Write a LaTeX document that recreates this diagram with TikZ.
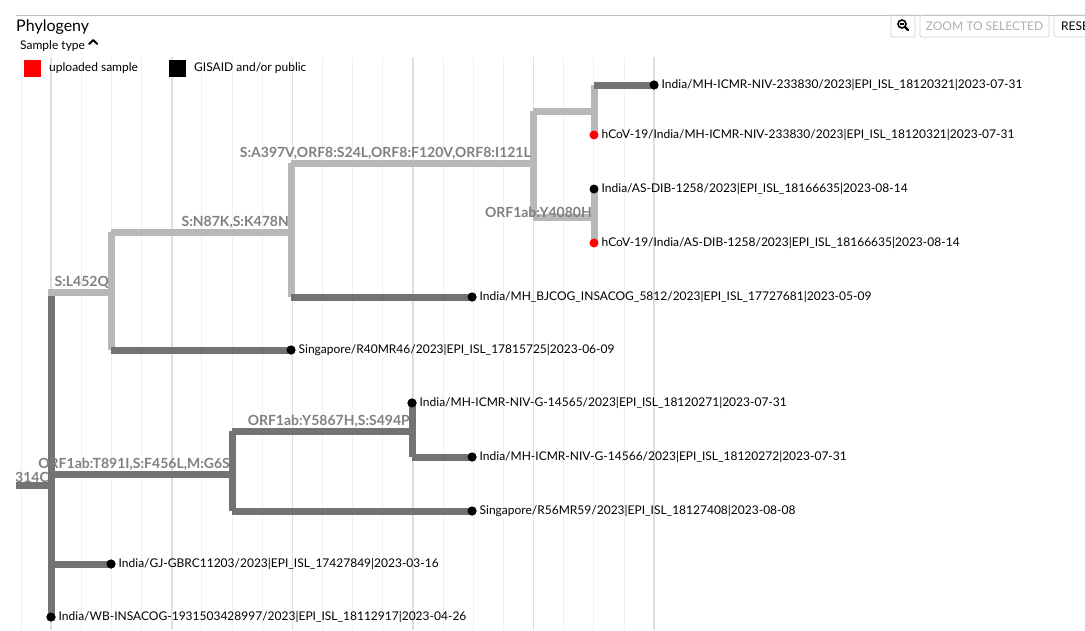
\documentclass[tikz,border=0pt]{standalone}
\usepackage{fontspec}
\setmainfont{Lato}
\definecolor{brdk}{RGB}{115,115,115}
\definecolor{brlt}{RGB}{184,184,184}
\definecolor{mutc}{RGB}{128,128,128}
\definecolor{gridd}{RGB}{222,222,222}
\definecolor{gridl}{RGB}{240,240,240}
\definecolor{btnb}{RGB}{210,210,210}
\definecolor{btnt}{RGB}{175,175,175}
\definecolor{hline}{RGB}{190,190,190}
\begin{document}
\begin{tikzpicture}[x=1pt,y=-1pt,
  dk/.style={line width=7pt,draw=brdk},
  lt/.style={line width=7pt,draw=brlt},
  tip/.style={anchor=west,font=\fontsize{12}{14}\selectfont,inner sep=0pt,xshift=7.5pt},
  mut/.style={anchor=south east,font=\fontsize{14}{16}\selectfont\bfseries,text=mutc,inner sep=0pt,yshift=3pt,xshift=-2pt},
  bdot/.style={circle,fill=black,inner sep=0pt,minimum size=9pt},
  rdot/.style={circle,fill=red,inner sep=0pt,minimum size=9pt},
  btn/.style={draw=btnb,rounded corners=2pt,line width=0.8pt}]
\useasboundingbox (0,0) rectangle (1085,630);
% grid
\foreach \i in {0,...,21}{
  \pgfmathtruncatemacro{\m}{mod(\i,4)}
  \ifnum\m=1
    \draw[line width=1.5pt,draw=gridd] (21+30.15*\i,57) -- (21+30.15*\i,630);
  \else
    \draw[line width=1pt,draw=gridl] (21+30.15*\i,57) -- (21+30.15*\i,630);
  \fi}
% header
\draw[hline,line width=0.8pt] (16,15) -- (1085,15);
\node[anchor=west,inner sep=0pt,font=\fontsize{16}{18}\selectfont] (title) at (16,27) {Phylogeny};
\node[anchor=west,inner sep=0pt,font=\fontsize{12}{14}\selectfont] (st) at (20,46) {Sample type};
\draw[line width=2pt,line cap=round,line join=round] ([xshift=4pt,yshift=2pt]st.east) -- ++(4,-4) -- ++(4,4);
\node[fill=red,minimum size=17pt,inner sep=0pt] (lr) at (32.5,68) {};
\node[anchor=west,inner sep=0pt,font=\fontsize{12}{14}\selectfont] (lrt) at (49,68) {uploaded sample};
\node[fill=black,minimum size=17pt,inner sep=0pt] (lb) at (177.5,68) {};
\node[anchor=west,inner sep=0pt,font=\fontsize{12}{14}\selectfont] (lbt) at (194,68) {GISAID and/or public};
\draw[btn] (891,15) rectangle (915,37);
\coordinate (mg) at (902,24);
\draw[line width=1.6pt] (mg) circle (4pt);
\draw[line width=2.2pt,line cap=round] (905,27) -- (908,30);
\draw[line width=1.2pt] (900,24) -- (904,24);
\draw[btn] (920,15) rectangle (1049,37);
\node[font=\fontsize{12}{12}\selectfont,text=btnt,inner sep=0pt] (zs) at (984.5,26.5) {ZOOM TO SELECTED};
\draw[btn] (1054,15) rectangle (1095,37);
\node[anchor=west,font=\fontsize{12}{12}\selectfont,inner sep=0pt] (rs) at (1061,26.5) {RESE};
% coordinates
\coordinate (r0) at (16,485);
\coordinate (r) at (51,485);
\coordinate (rg) at (51,474);
\coordinate (a) at (51,292);
\coordinate (b) at (111,292);
\coordinate (c) at (291,232);
\coordinate (d) at (533,163);
\coordinate (e) at (594,111);
\coordinate (f) at (594,217);
\coordinate (g) at (232,474);
\coordinate (h) at (412,431);
% branches light
\draw[lt,line cap=round] (51,295) -- (a) -- (b);
\draw[lt] (111,232) -- (111,350);
\draw[lt] (111,232) -- (c);
\draw[lt] (291,163) -- (291,297);
\draw[lt] (291,163) -- (d);
\draw[lt] (533,111) -- (533,217);
\draw[lt] (533,111) -- (e);
\draw[lt] (594,85) -- (594,135);
\draw[lt] (533,217) -- (f);
\draw[lt] (594,189) -- (594,243);
% tips
\node[bdot] (t1) at (654,85) {};
\node[rdot] (t2) at (594,135) {};
\node[bdot] (t3) at (594,189) {};
\node[rdot] (t4) at (594,243) {};
\node[bdot] (t5) at (472,297) {};
\node[bdot] (t6) at (291,350) {};
\node[bdot] (t7) at (412,403) {};
\node[bdot] (t8) at (472,457) {};
\node[bdot] (t9) at (472,511) {};
\node[bdot] (t10) at (111,564) {};
\node[bdot] (t11) at (51,617) {};
% dark branches
\draw[dk] (594,85) -- (t1.center);
\draw[dk] (291,297) -- (t5.center);
\draw[dk] (111,350) -- (t6.center);
\draw[dk] (r0) -- (r);
\draw[dk] (51,296) -- (t11.center);
\draw[dk] (rg) -- (g);
\draw[dk] (232,431) -- (232,511);
\draw[dk] (232,431) -- (h);
\draw[dk] (412,403) -- (412,457);
\draw[dk] (412,457) -- (t8.center);
\draw[dk] (232,511) -- (t9.center);
\draw[dk] (51,564) -- (t10.center);
\foreach \t in {t1,t5,t6,t7,t8,t9,t10,t11}{\fill[black] (\t.center) circle (4.5pt);}
% tip labels
\node[tip] at (t1.center) {India/MH-ICMR-NIV-233830/2023|EPI\_ISL\_18120321|2023-07-31};
\node[tip] at (t2.center) {hCoV-19/India/MH-ICMR-NIV-233830/2023|EPI\_ISL\_18120321|2023-07-31};
\node[tip] at (t3.center) {India/AS-DIB-1258/2023|EPI\_ISL\_18166635|2023-08-14};
\node[tip] at (t4.center) {hCoV-19/India/AS-DIB-1258/2023|EPI\_ISL\_18166635|2023-08-14};
\node[tip] at (t5.center) {India/MH\_BJCOG\_INSACOG\_5812/2023|EPI\_ISL\_17727681|2023-05-09};
\node[tip] at (t6.center) {Singapore/R40MR46/2023|EPI\_ISL\_17815725|2023-06-09};
\node[tip] at (t7.center) {India/MH-ICMR-NIV-G-14565/2023|EPI\_ISL\_18120271|2023-07-31};
\node[tip] at (t8.center) {India/MH-ICMR-NIV-G-14566/2023|EPI\_ISL\_18120272|2023-07-31};
\node[tip] at (t9.center) {Singapore/R56MR59/2023|EPI\_ISL\_18127408|2023-08-08};
\node[tip] at (t10.center) {India/GJ-GBRC11203/2023|EPI\_ISL\_17427849|2023-03-16};
\node[tip] at (t11.center) {India/WB-INSACOG-1931503428997/2023|EPI\_ISL\_18112917|2023-04-26};
% mutation labels
\node[mut] at (b) {S:L452Q};
\node[mut] at (c) {S:N87K,S:K478N};
\node[mut] at (d) {S:A397V,ORF8:S24L,ORF8:F120V,ORF8:I121L};
\node[mut,yshift=-4pt] at (f) {ORF1ab:Y4080H};
\node[mut] at (h) {ORF1ab:Y5867H,S:S494P};
\node[mut] at (g) {ORF1ab:T891I,S:F456L,M:G6S};
\begin{scope}
\clip (16,460) rectangle (60,500);
\node[mut,yshift=-1pt] at (r) {C8314C};
\end{scope}
\end{tikzpicture}
\end{document}
